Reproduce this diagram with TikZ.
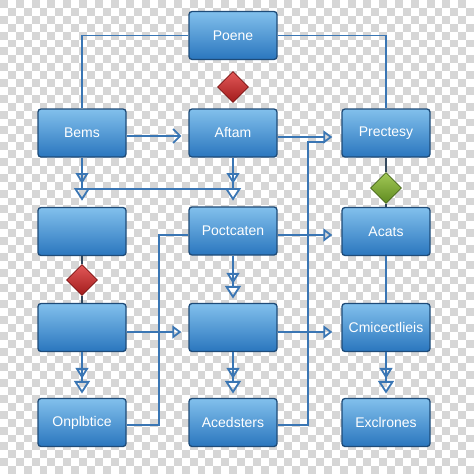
\documentclass[tikz,border=0pt]{standalone}
\usepackage{fontspec}
\setmainfont{Liberation Sans}
\usetikzlibrary{arrows.meta,shapes.geometric,calc}
\definecolor{chk}{HTML}{D6D6D6}
\definecolor{boxtop}{HTML}{82C0EC}
\definecolor{boxbot}{HTML}{2A76BE}
\definecolor{boxline}{HTML}{1E4B78}
\definecolor{connc}{HTML}{3A76B4}
\definecolor{redtop}{HTML}{E25858}
\definecolor{redbot}{HTML}{A21C1C}
\definecolor{redline}{HTML}{7A1212}
\definecolor{grntop}{HTML}{A3C957}
\definecolor{grnbot}{HTML}{5E8A1F}
\definecolor{grnline}{HTML}{46651A}
\definecolor{darkc}{HTML}{34495E}
\tikzset{
  box/.style={rectangle, rounded corners=3pt, draw=boxline, line width=1.3pt,
    top color=boxtop, bottom color=boxbot, minimum width=88pt, minimum height=48pt,
    text=white, font=\fontsize{14}{16}\selectfont, inner sep=2pt},
  conn/.style={draw=connc, line width=1.8pt},
  otri/.tip={Triangle[open, length=9pt, width=13pt]},
  obarb/.tip={Straight Barb[length=7pt, width=14pt]},
  rdia/.style={diamond, draw=redline, line width=0.8pt, top color=redtop, bottom color=redbot,
    minimum width=31pt, minimum height=31pt, inner sep=0pt},
  gdia/.style={diamond, draw=grnline, line width=0.8pt, top color=grntop, bottom color=grnbot,
    minimum width=31pt, minimum height=31pt, inner sep=0pt},
  dline/.style={draw=darkc, line width=1.4pt},
  stri/.pic={\draw[conn, line join=miter] (-5,0) -- (5,0) -- (0,8) -- cycle;},
  dtri/.pic={\draw[conn, line join=miter] (-6.5,0) -- (6.5,0) -- (0,10) -- cycle;}
}
\begin{document}
\begin{tikzpicture}[x=1pt,y=-1pt]
\useasboundingbox (0,0) rectangle (474,474);
\fill[white] (0,0) rectangle (474,474);
\foreach \i in {0,...,59}{
  \foreach \j in {0,...,29}{
    \pgfmathsetmacro\yy{(2*\j+mod(\i,2))*7.9}
    \fill[chk] (\i*7.9,\yy) rectangle ++(7.9,7.9);
  }
}
% boxes
\node[box] (poene) at (233,35.5) {Poene};
\node[box] (bems) at (82,133) {Bems};
\node[box] (aftam) at (233,133) {Aftam};
\node[box] (prec) at (386,133) {Prectesy};
\node[box] (l2) at (82,231.5) {};
\node[box] (poct) at (233,231) {Poctcaten};
\node[box] (acats) at (386,231.5) {Acats};
\node[box] (l3) at (82,327.5) {};
\node[box] (m3) at (233,327.5) {};
\node[box] (cmic) at (386,327.5) {Cmicectlieis};
\node[box] (onp) at (82,422.5) {Onplbtice};
\node[box] (aced) at (233,422.5) {Acedsters};
\node[box] (excl) at (386,422.5) {Exclrones};
% diamonds
\node[rdia] (dtop) at (233,87) {};
\node[rdia] (dleft) at (82,280) {};
\node[gdia] (dgreen) at (386,188) {};
% top frame lines
\draw[conn] (bems.north) |- (poene.west);
\draw[conn] (poene.east) -| (prec.north);
% horizontal arrows
\draw[conn,-{obarb}] ($(bems.east)+(0,3)$) -- ($(aftam.west)+(-7,3)$);
\draw[conn,-{otri}] ($(aftam.east)+(0,4)$) -- ($(prec.west)+(-9,4)$);
\draw[conn,-{otri}] ($(poct.east)+(0,4)$) -- ($(acats.west)+(-9,3.5)$);
\draw[conn,-{otri}] ($(l3.east)+(0,4.5)$) -- ($(m3.west)+(-7,4.5)$);
\draw[conn,-{otri}] ($(m3.east)+(0,4.5)$) -- ($(cmic.west)+(-9,4.5)$);
% bus lines
\coordinate (c1) at (308,425);
\coordinate (c2) at (308,142);
\draw[conn] ($(aced.east)+(0,2.5)$) -- (c1) -- (c2) -- ($(prec.west)+(-16,9)$);
\coordinate (c3) at (159,425);
\coordinate (c4) at (159,235);
\draw[conn] ($(onp.east)+(0,2.5)$) -- (c3) -- (c4) -- ($(poct.west)+(0,4)$);
% horizontal join line under first row
\coordinate (h1) at (77,189);
\coordinate (h2) at (240,189);
\draw[conn] (h1) -- (h2);
\coordinate (hb) at (bems.south |- h1);
\coordinate (ha) at (aftam.south |- h1);
\draw[conn] (bems.south) -- (hb);
\draw[conn] (aftam.south) -- (ha);
\pic at ($(hb)+(0,-15)$) {stri};
\pic at (hb) {dtri};
\pic at ($(ha)+(0,-15)$) {stri};
\pic at (ha) {dtri};
% vertical double-mark arrows
\foreach \a/\b in {poct/m3, m3/aced, l3/onp, cmic/excl}{
  \draw[conn] (\a.south) -- ($(\b.north)+(0,-16)$);
  \pic at ($(\b.north)+(0,-29)$) {stri};
  \pic at ($(\b.north)+(0,-16)$) {dtri};
}
% diamond links
\draw[dline] (l2.south) -- (dleft.north);
\draw[dline] (dleft.south) -- (l3.north);
\draw[dline] (prec.south) -- (dgreen.north);
\draw[dline] (dgreen.south) -- (acats.north);
\draw[conn] (acats.south) -- (cmic.north);
\end{tikzpicture}
\end{document}
